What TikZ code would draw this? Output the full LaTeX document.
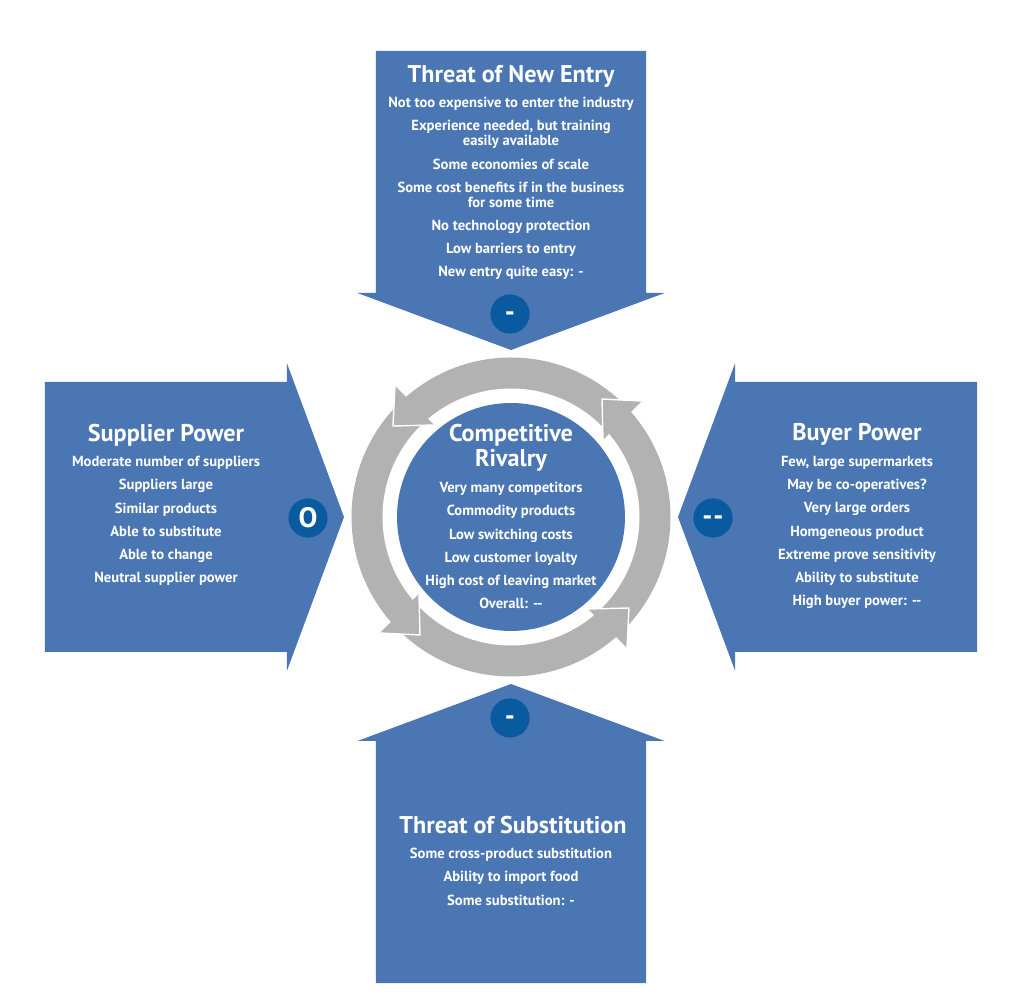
\documentclass[tikz,border=0pt]{standalone}
\usepackage{fontspec}
\setmainfont{PT Sans}
\definecolor{forceBlue}{HTML}{4A76B4}
\definecolor{badgeBlue}{HTML}{0A5AA0}
\definecolor{ringGrey}{HTML}{B2B2B2}
\tikzset{
  forceTitle/.style={text=white, font=\fontsize{17.2pt}{18.5pt}\bfseries, align=center, inner sep=0mm},
  forceText/.style={text=white, font=\fontsize{10.4pt}{10.67pt}\bfseries, align=center, anchor=north, inner sep=0mm},
  forceBadge/.style={circle, fill=badgeBlue, text=white, font=\fontsize{20pt}{20pt}\bfseries, minimum size=9.8mm, inner sep=0mm},
  dashBadge/.style={forceBadge, text height=10.8pt, text depth=0pt},
}
\begin{document}
\begin{tikzpicture}

\useasboundingbox (-127.75mm,-120.25mm) rectangle (127.75mm,129.25mm);

\foreach \ang in {0,90,180,270} {
  \fill[forceBlue, rotate=\ang] (-33.75mm,116.5mm) -- (33.75mm,116.5mm) -- (33.75mm,56mm) -- (38.4mm,56mm) -- (0mm,41.75mm) -- (-38.4mm,56mm) -- (-33.75mm,56mm) -- cycle;
}

\node (ringOuter) [circle, fill=ringGrey, minimum size=79.75mm, inner sep=0mm] at (0mm,0mm) {};
\node (ringInner) [circle, fill=white, minimum size=64.25mm, inner sep=0mm] at (0mm,0mm) {};

\foreach \ang in {0,90,180,270} {
  \fill[ringGrey, rotate=\ang] (-29mm,32.75mm) -- (-29.5mm,22.75mm) -- (-19.25mm,23mm) -- cycle;
  \draw[white, line width=0.35mm, rotate=\ang] (-29mm,32.75mm) -- (-29.5mm,22.75mm) -- (-19.25mm,23mm);
}

\node (rivalryDisc) [circle, fill=forceBlue, minimum size=57mm, inner sep=0mm] at (0mm,0mm) {};

\node (rivalryTitle) [forceTitle] at (0mm,17.25mm) {Competitive\\[-0.1mm]Rivalry};
\node (rivalryText) [forceText] at (0mm,8.75mm) {Very many competitors\\[2.05mm]Commodity products\\[2.05mm]Low switching costs\\[2.05mm]Low customer loyalty\\[2.05mm]High cost of leaving market\\[2.05mm]Overall: -{}-};

\node (entryTitle) [forceTitle] at (0mm,110.25mm) {Threat of New Entry};
\node (entryText) [forceText] at (0mm,105mm) {Not too expensive to enter the industry\\[2.05mm]Experience needed, but training\\easily available\\[2.05mm]Some economies of scale\\[2.05mm]Some cost benefits if in the business\\for some time\\[2.05mm]No technology protection\\[2.05mm]Low barriers to entry\\[2.05mm]New entry quite easy: -};
\node (entryBadge) [dashBadge] at (-0.25mm,50.75mm) {-};

\node (supplierTitle) [forceTitle] at (-86.25mm,20.5mm) {Supplier Power};
\node (supplierText) [forceText] at (-86.25mm,15.25mm) {Moderate number of suppliers\\[2.05mm]Suppliers large\\[2.05mm]Similar products\\[2.05mm]Able to substitute\\[2.05mm]Able to change\\[2.05mm]Neutral supplier power};
\node (supplierBadge) [forceBadge] at (-50.75mm,-0.25mm) {O};

\node (buyerTitle) [forceTitle] at (86.5mm,20.75mm) {Buyer Power};
\node (buyerText) [forceText] at (86.5mm,15.25mm) {Few, large supermarkets\\[2.05mm]May be co-operatives?\\[2.05mm]Very large orders\\[2.05mm]Homgeneous product\\[2.05mm]Extreme prove sensitivity\\[2.05mm]Ability to substitute\\[2.05mm]High buyer power: -{}-};
\node (buyerBadge) [dashBadge] at (50.5mm,-0.25mm) {-\kern0.6pt-};

\node (substitutionTitle) [forceTitle] at (0.5mm,-77mm) {Threat of Substitution};
\node (substitutionText) [forceText] at (0mm,-82.75mm) {Some cross-product substitution\\[2.05mm]Ability to import food\\[2.05mm]Some substitution: -};
\node (substitutionBadge) [dashBadge] at (-0.25mm,-50.25mm) {-};

\end{tikzpicture}
\end{document}
